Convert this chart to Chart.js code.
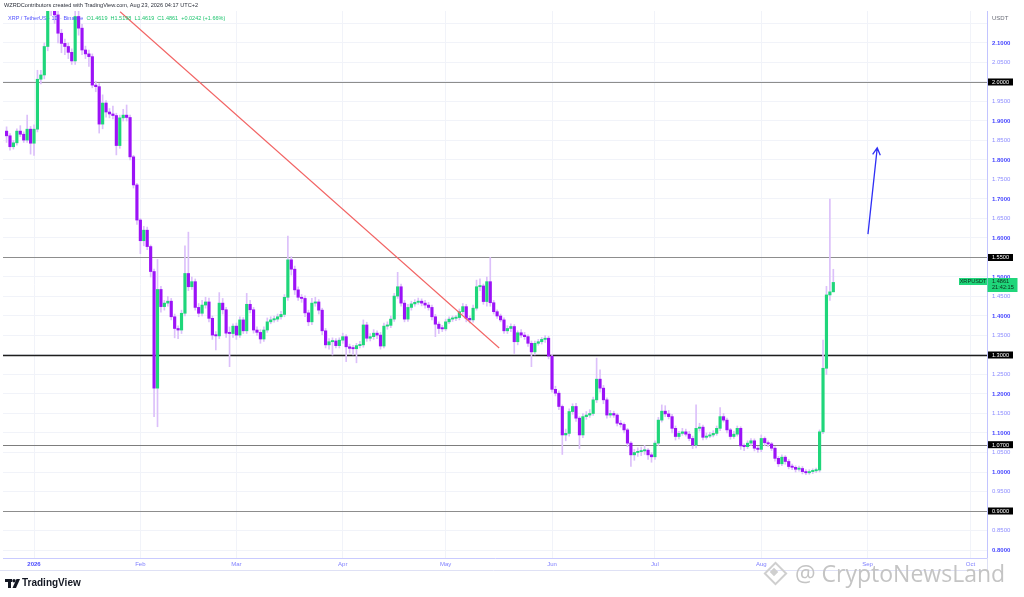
<!DOCTYPE html>
<html>
<head>
<meta charset="utf-8">
<script src="https://cdn.jsdelivr.net/npm/chart.js@4.4.1/dist/chart.umd.min.js"></script>
<style>
html, body { margin: 0; padding: 0; background: #fff; }
#wrap { position: relative; width: 1024px; height: 597px; overflow: hidden; font-family: "Liberation Sans", Arial, sans-serif; }
#c { position: absolute; left: 0; top: 0; }
.t { position: absolute; white-space: nowrap; }
.b { color: #5353ff; }
.g { color: #1fc46f; }
</style>
</head>
<body>
<div id="wrap">
  <canvas id="c" width="1024" height="597"></canvas>
  <div class="t" style="left:4px;top:2px;font-size:5.6px;color:#2a2e39;">WZRDContributors created with TradingView.com, Aug 23, 2026 04:17 UTC+2</div>
  <div class="t" style="left:8px;top:15px;font-size:5.5px;">
    <span class="b">XRP / TetherUS · 1D · Binance</span>&nbsp;
    <span class="g">O1.4619</span>&nbsp;
    <span class="g">H1.5198</span>&nbsp;
    <span class="g">L1.4619</span>&nbsp;
    <span class="g">C1.4861</span>&nbsp;
    <span class="g">+0.0242 (+1.66%)</span>
  </div>
  <div class="t" style="left:22px;top:577px;font-size:10px;font-weight:bold;color:#131722;">TradingView</div>
  <div class="t" style="left:762px;top:560px;width:24px;height:24px;">
    <div style="position:absolute;left:5px;top:5px;width:13px;height:13px;border:2px solid #cfcfcf;transform:rotate(45deg);"></div>
    <div style="position:absolute;left:9px;top:9px;width:6px;height:6px;background:#cfcfcf;transform:rotate(45deg);"></div>
  </div>
  <div class="t" style="left:795px;top:557px;font-size:23px;color:#c4c4c4;font-family:'Open Sans','Liberation Sans',sans-serif;">@ CryptoNewsLand</div>
</div>
<script>
// daily candles, index 0 = Dec 24 2025, index 8 = Jan 1 2026
const opens = [
  1.874,1.862,1.834,1.844,1.874,1.866,1.851,1.879,1.843,1.879,
  2.007,2.018,2.091,2.195,2.185,2.172,2.125,2.099,2.091,2.076,
  2.054,2.168,2.138,2.082,2.072,2.065,1.992,1.988,1.892,1.946,
  1.923,1.918,1.914,1.837,1.908,1.915,1.909,1.808,1.736,1.646,
  1.593,1.620,1.578,1.514,1.215,1.468,1.424,1.433,1.438,1.398,
  1.368,1.364,1.407,1.509,1.475,1.488,1.422,1.407,1.428,1.436,
  1.394,1.351,1.349,1.433,1.416,1.356,1.355,1.374,1.351,1.390,
  1.362,1.430,1.416,1.364,1.358,1.341,1.364,1.385,1.390,1.392,
  1.398,1.404,1.448,1.544,1.520,1.467,1.448,1.445,1.408,1.385,
  1.433,1.436,1.415,1.362,1.326,1.334,1.336,1.324,1.338,1.347,
  1.321,1.317,1.316,1.324,1.326,1.377,1.343,1.347,1.356,1.351,
  1.323,1.374,1.376,1.392,1.451,1.475,1.433,1.392,1.422,1.431,
  1.435,1.438,1.433,1.428,1.422,1.398,1.379,1.368,1.367,1.385,
  1.392,1.394,1.396,1.411,1.424,1.394,1.390,1.420,1.475,1.477,
  1.437,1.488,1.434,1.411,1.400,1.390,1.362,1.368,1.373,1.334,
  1.357,1.351,1.347,1.330,1.308,1.330,1.334,1.340,1.343,1.297,
  1.212,1.202,1.168,1.095,1.099,1.155,1.168,1.138,1.095,1.142,
  1.146,1.150,1.185,1.238,1.215,1.185,1.146,1.150,1.146,1.125,
  1.122,1.108,1.074,1.044,1.050,1.052,1.054,1.056,1.044,1.039,
  1.074,1.133,1.156,1.149,1.142,1.112,1.091,1.099,1.103,1.097,
  1.086,1.069,1.112,1.115,1.089,1.092,1.095,1.099,1.112,1.142,
  1.133,1.108,1.091,1.097,1.112,1.067,1.065,1.074,1.080,1.061,
  1.058,1.086,1.075,1.072,1.061,1.035,1.021,1.038,1.027,1.014,
  1.012,1.007,1.009,1.001,0.998,1.001,1.003,1.005,1.103,1.266,
  1.454,1.4619
];
const highs = [
  1.885,1.868,1.850,1.880,1.888,1.872,1.915,1.886,1.890,2.030,
  2.030,2.100,2.230,2.240,2.200,2.185,2.135,2.110,2.100,2.085,
  2.195,2.195,2.148,2.092,2.082,2.072,2.002,1.996,1.967,1.952,
  1.932,1.938,1.920,1.915,1.930,1.941,1.915,1.812,1.740,1.650,
  1.630,1.628,1.582,1.520,1.545,1.476,1.440,1.450,1.445,1.405,
  1.375,1.415,1.580,1.615,1.500,1.495,1.432,1.440,1.448,1.446,
  1.400,1.360,1.460,1.445,1.422,1.372,1.380,1.382,1.398,1.396,
  1.458,1.440,1.422,1.372,1.365,1.372,1.395,1.398,1.400,1.405,
  1.412,1.455,1.605,1.552,1.528,1.475,1.455,1.452,1.415,1.445,
  1.448,1.442,1.420,1.368,1.342,1.344,1.342,1.344,1.356,1.352,
  1.328,1.325,1.330,1.335,1.390,1.384,1.355,1.365,1.362,1.358,
  1.382,1.385,1.400,1.458,1.512,1.482,1.440,1.430,1.438,1.442,
  1.446,1.444,1.440,1.435,1.428,1.404,1.385,1.376,1.392,1.398,
  1.400,1.402,1.418,1.432,1.430,1.400,1.428,1.492,1.495,1.482,
  1.500,1.550,1.440,1.416,1.405,1.395,1.375,1.380,1.378,1.362,
  1.365,1.358,1.352,1.336,1.336,1.340,1.345,1.350,1.348,1.302,
  1.220,1.208,1.172,1.110,1.162,1.175,1.176,1.142,1.150,1.155,
  1.160,1.192,1.292,1.262,1.222,1.190,1.158,1.156,1.150,1.132,
  1.126,1.112,1.078,1.058,1.062,1.064,1.068,1.060,1.050,1.080,
  1.140,1.172,1.170,1.158,1.148,1.118,1.104,1.112,1.110,1.104,
  1.092,1.172,1.125,1.120,1.100,1.102,1.106,1.118,1.165,1.150,
  1.138,1.112,1.104,1.118,1.116,1.072,1.080,1.086,1.085,1.066,
  1.095,1.090,1.080,1.076,1.065,1.040,1.044,1.042,1.032,1.020,
  1.016,1.015,1.014,1.006,1.006,1.008,1.010,1.108,1.338,1.476,
  1.700,1.5198
];
const lows = [
  1.845,1.825,1.828,1.838,1.860,1.845,1.845,1.815,1.812,1.872,
  1.995,2.008,2.080,2.170,2.150,2.100,2.075,2.070,2.060,2.045,
  2.045,2.120,2.070,2.060,2.040,1.985,1.975,1.869,1.880,1.910,
  1.908,1.905,1.813,1.830,1.900,1.900,1.800,1.728,1.635,1.560,
  1.580,1.570,1.500,1.142,1.116,1.410,1.415,1.425,1.390,1.344,
  1.342,1.355,1.400,1.465,1.468,1.415,1.398,1.400,1.420,1.385,
  1.340,1.313,1.342,1.405,1.345,1.270,1.345,1.340,1.345,1.355,
  1.355,1.408,1.356,1.350,1.330,1.335,1.358,1.380,1.384,1.386,
  1.392,1.398,1.440,1.505,1.455,1.440,1.435,1.398,1.375,1.378,
  1.425,1.405,1.352,1.318,1.315,1.300,1.318,1.318,1.330,1.283,
  1.305,1.300,1.280,1.318,1.320,1.335,1.336,1.340,1.342,1.315,
  1.318,1.366,1.370,1.386,1.445,1.425,1.385,1.386,1.415,1.425,
  1.430,1.426,1.420,1.415,1.390,1.347,1.355,1.360,1.362,1.380,
  1.386,1.388,1.390,1.405,1.385,1.382,1.384,1.415,1.465,1.430,
  1.425,1.425,1.405,1.394,1.385,1.355,1.355,1.360,1.304,1.326,
  1.345,1.340,1.322,1.270,1.300,1.325,1.328,1.332,1.290,1.205,
  1.195,1.160,1.045,1.080,1.092,1.148,1.130,1.060,1.088,1.135,
  1.140,1.145,1.178,1.205,1.175,1.138,1.140,1.140,1.118,1.115,
  1.100,1.065,1.014,1.030,1.040,1.042,1.045,1.032,1.025,1.032,
  1.068,1.128,1.142,1.136,1.100,1.082,1.085,1.094,1.092,1.080,
  1.060,1.062,1.105,1.082,1.084,1.088,1.090,1.094,1.106,1.128,
  1.100,1.084,1.086,1.092,1.058,1.055,1.060,1.068,1.054,1.050,
  1.052,1.068,1.065,1.055,1.028,1.014,1.016,1.020,1.008,1.006,
  1.000,1.002,0.995,0.993,0.994,0.996,0.998,1.000,1.098,1.250,
  1.440,1.4619
];
const closes = [
  1.862,1.834,1.844,1.874,1.866,1.851,1.879,1.843,1.879,2.007,
  2.018,2.091,2.195,2.185,2.172,2.125,2.099,2.091,2.076,2.054,
  2.168,2.138,2.082,2.072,2.065,1.992,1.988,1.892,1.946,1.923,
  1.918,1.914,1.837,1.908,1.915,1.909,1.808,1.736,1.646,1.593,
  1.620,1.578,1.514,1.215,1.468,1.424,1.433,1.438,1.398,1.368,
  1.364,1.407,1.509,1.475,1.488,1.422,1.407,1.428,1.436,1.394,
  1.351,1.349,1.433,1.416,1.356,1.355,1.374,1.351,1.390,1.362,
  1.430,1.416,1.364,1.358,1.341,1.364,1.385,1.390,1.392,1.398,
  1.404,1.448,1.544,1.520,1.467,1.448,1.445,1.408,1.385,1.433,
  1.436,1.415,1.362,1.326,1.334,1.336,1.324,1.338,1.347,1.321,
  1.317,1.316,1.324,1.326,1.377,1.343,1.347,1.356,1.351,1.323,
  1.374,1.376,1.392,1.451,1.475,1.433,1.392,1.422,1.431,1.435,
  1.438,1.433,1.428,1.422,1.398,1.379,1.368,1.367,1.385,1.392,
  1.394,1.396,1.411,1.424,1.394,1.390,1.420,1.475,1.477,1.437,
  1.488,1.434,1.411,1.400,1.390,1.362,1.368,1.373,1.334,1.357,
  1.351,1.347,1.330,1.308,1.330,1.334,1.340,1.343,1.297,1.212,
  1.202,1.168,1.095,1.099,1.155,1.168,1.138,1.095,1.142,1.146,
  1.150,1.185,1.238,1.215,1.185,1.146,1.150,1.146,1.125,1.122,
  1.108,1.074,1.044,1.050,1.052,1.054,1.056,1.044,1.039,1.074,
  1.133,1.156,1.149,1.142,1.112,1.091,1.099,1.103,1.097,1.086,
  1.069,1.112,1.115,1.089,1.092,1.095,1.099,1.112,1.142,1.133,
  1.108,1.091,1.097,1.112,1.067,1.065,1.074,1.080,1.061,1.058,
  1.086,1.075,1.072,1.061,1.035,1.021,1.038,1.027,1.014,1.012,
  1.007,1.009,1.001,0.998,1.001,1.003,1.005,1.103,1.266,1.454,
  1.4619,1.4861
];

// x axis: candle index of the first day of each month
const monthIdx = [8, 39, 67, 98, 128, 159, 189, 220, 251, 281];
const monthLabels = ['2026', 'Feb', 'Mar', 'Apr', 'May', 'Jun', 'Jul', 'Aug', 'Sep', 'Oct'];
const priceTicks = [0.80,0.85,0.90,0.95,1.00,1.05,1.10,1.15,1.20,1.25,1.30,1.35,1.40,1.45,
                    1.50,1.55,1.60,1.65,1.70,1.75,1.80,1.85,1.90,1.95,2.00,2.05,2.10,2.15];

// horizontal levels drawn on the chart
const levels = [2.0, 1.55, 1.3, 1.07, 0.9];
const levelColors = ['#8d8d8d', '#8d8d8d', '#1e1e1e', '#7d7d7d', '#8d8d8d'];
const levelWidths = [1, 1, 1.6, 1, 1];

// trend line and arrow (index, price)
const trendX = [33.1, 143.6];
const trendY = [2.180, 1.318];
const arrowX = [251.1, 253.8];
const arrowY = [1.610, 1.831];

const lastPrice = 1.4861;
const GREEN = '#1fd67a', PURPLE = '#9c12f7', WICK = '#dcc0fa';

const overlay = {
  id: 'overlay',
  beforeDatasetsDraw(chart) {
    const { ctx, chartArea: a, scales: { y } } = chart;
    ctx.save();
    levels.forEach((v, k) => {
      const py = Math.round(y.getPixelForValue(v)) + 0.5;
      ctx.strokeStyle = levelColors[k];
      ctx.lineWidth = levelWidths[k];
      ctx.beginPath(); ctx.moveTo(a.left, py); ctx.lineTo(a.right, py); ctx.stroke();
    });
    ctx.restore();
  },
  afterDraw(chart) {
    const { ctx, chartArea: a, scales: { x, y } } = chart;
    ctx.save();
    // arrow
    const x0 = x.getPixelForValue(arrowX[0]), y0 = y.getPixelForValue(arrowY[0]);
    const x1 = x.getPixelForValue(arrowX[1]), y1 = y.getPixelForValue(arrowY[1]);
    const ang = Math.atan2(y1 - y0, x1 - x0);
    ctx.strokeStyle = '#2f2ff5'; ctx.lineWidth = 1.3;
    ctx.beginPath(); ctx.moveTo(x0, y0); ctx.lineTo(x1, y1);
    ctx.moveTo(x1 - 8 * Math.cos(ang - 0.5), y1 - 8 * Math.sin(ang - 0.5)); ctx.lineTo(x1, y1);
    ctx.lineTo(x1 - 8 * Math.cos(ang + 0.5), y1 - 8 * Math.sin(ang + 0.5));
    ctx.stroke();

    // bottom border of the time axis
    ctx.strokeStyle = '#dfe1f5'; ctx.lineWidth = 1;
    ctx.beginPath(); ctx.moveTo(0, 570.5); ctx.lineTo(a.right, 570.5);
    ctx.moveTo(a.right + 0.5, a.bottom); ctx.lineTo(a.right + 0.5, 570); ctx.stroke();

    // level labels on the price axis
    ctx.font = '5.6px "Liberation Sans", Arial, sans-serif';
    ctx.textAlign = 'center'; ctx.textBaseline = 'middle';
    levels.forEach(v => {
      const py = y.getPixelForValue(v);
      ctx.fillStyle = '#000';
      ctx.fillRect(a.right + 1, py - 3.5, 25, 7);
      ctx.fillStyle = '#fff';
      ctx.fillText(v.toFixed(4), a.right + 13.5, py + 0.3);
    });

    // current price labels
    const pp = y.getPixelForValue(lastPrice);
    ctx.fillStyle = GREEN;
    ctx.fillRect(a.right - 28, pp - 4.4, 28, 7);
    ctx.fillRect(a.right + 0.5, pp - 4.4, 30, 14);
    ctx.fillStyle = '#0d2b1a';
    ctx.fillText('XRPUSDT', a.right - 14, pp - 0.8);
    ctx.textAlign = 'left';
    ctx.fillText(lastPrice.toFixed(4), a.right + 5, pp - 1.2);
    ctx.fillText('21:42:15', a.right + 5, pp + 5);

    // currency label
    ctx.fillStyle = '#6a6d78';
    ctx.font = '6px "Liberation Sans", Arial, sans-serif';
    ctx.fillText('USDT', a.right + 5, 18);

    // TradingView mark
    ctx.fillStyle = '#131722';
    ctx.fillRect(5, 579, 7, 3);
    ctx.fillRect(8, 579, 3, 9);
    ctx.beginPath(); ctx.arc(14, 580.7, 1.7, 0, Math.PI * 2); ctx.fill();
    ctx.beginPath(); ctx.moveTo(16.5, 579); ctx.lineTo(20, 579); ctx.lineTo(16, 588); ctx.lineTo(12.5, 588); ctx.closePath(); ctx.fill();
    ctx.restore();
  }
};

Chart.defaults.font.family = '"Liberation Sans", Arial, sans-serif';

const isMajor = v => Math.abs(Math.round(v * 10) - v * 10) < 1e-6;
const tickVal = c => (c && c.tick) ? c.tick.value : 0;

new Chart(document.getElementById('c'), {
  type: 'bar',
  data: {
    datasets: [
      {
        type: 'line',
        data: trendX.map((v, i) => ({ x: v, y: trendY[i] })),
        borderColor: '#f26464',
        borderWidth: 1.1,
        pointRadius: 0,
        order: 0
      },
      {
        label: 'wicks',
        data: highs.map((h, i) => ({ x: i, y: [lows[i], h] })),
        backgroundColor: WICK,
        barThickness: 1,
        grouped: false,
        order: 2
      },
      {
        label: 'bodies',
        data: opens.map((o, i) => ({ x: i, y: [o, closes[i]] })),
        backgroundColor: opens.map((o, i) => closes[i] >= o ? GREEN : PURPLE),
        barThickness: 2.5,
        minBarLength: 1.2,
        grouped: false,
        order: 1
      }
    ]
  },
  options: {
    responsive: false,
    animation: false,
    layout: { padding: { left: 3, top: 11, right: 0, bottom: 0 } },
    plugins: { legend: { display: false }, tooltip: { enabled: false } },
    scales: {
      x: {
        type: 'linear',
        min: -1.04,
        max: 285.8,
        offset: false,
        grid: { offset: false, color: '#f1f3f9', drawTicks: false },
        border: { color: '#c9cbff' },
        afterBuildTicks: s => { s.ticks = monthIdx.map(v => ({ value: v })); },
        afterFit: s => { s.height = 39; },
        ticks: {
          autoSkip: false,
          maxRotation: 0,
          padding: 3,
          font: c => ({ size: 6, weight: (c && c.index === 0) ? 'bold' : 'normal' }),
          color: c => (c && c.index === 0) ? '#4b4bff' : '#8080ff',
          callback: (v, i) => monthLabels[i]
        }
      },
      y: {
        position: 'right',
        min: 0.7795,
        max: 2.182,
        beginAtZero: false,
        grid: { color: '#f1f3f9', drawTicks: false },
        border: { color: '#c2c4ff' },
        afterBuildTicks: s => { s.ticks = priceTicks.map(v => ({ value: v })); },
        afterFit: s => { s.width = 37; },
        ticks: {
          padding: 5,
          font: c => ({ size: 6, weight: isMajor(tickVal(c)) ? 'bold' : 'normal' }),
          color: c => isMajor(tickVal(c)) ? '#4646ff' : '#8d8dff',
          callback: v => v > 2.12 ? '' : v.toFixed(4)
        }
      }
    }
  },
  plugins: [overlay]
});
</script>
</body>
</html>
